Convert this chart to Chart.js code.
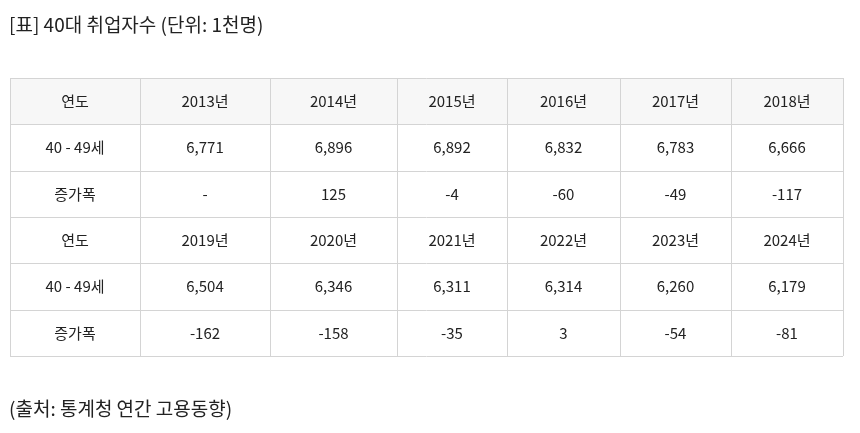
<!DOCTYPE html>
<html><head><meta charset="utf-8">
<script src="https://cdn.jsdelivr.net/npm/chart.js@4"></script>
<style>
html,body{margin:0;padding:0;background:#fff;width:860px;height:433px;overflow:hidden;font-family:"Noto Sans CJK KR",sans-serif;color:#222}
#t{position:absolute;left:9px;top:10px;font-size:19px}
#s{position:absolute;left:9px;top:394px;font-size:19px}
#w{position:absolute;left:0;top:0;width:860px;height:433px}
</style></head><body>
<div id="w"><canvas id="c"></canvas></div>
<div id="t">[표] 40대 취업자수 (단위: 1천명)</div>
<div id="s">(출처: 통계청 연간 고용동향)</div>
<script>
const years1 = ["2013년","2014년","2015년","2016년","2017년","2018년"];
const values1 = ["6,771","6,896","6,892","6,832","6,783","6,666"];
const diffs1 = ["-","125","-4","-60","-49","-117"];
const years2 = ["2019년","2020년","2021년","2022년","2023년","2024년"];
const values2 = ["6,504","6,346","6,311","6,314","6,260","6,179"];
const diffs2 = ["-162","-158","-35","3","-54","-81"];
const rowHeads = ["연도","40 - 49세","증가폭","연도","40 - 49세","증가폭"];
const colEdges = [0,130,260,387,497,610,721,833];

const rows = [years1, values1, diffs1, years2, values2, diffs2];
const tablePlugin = {
  id:'table',
  afterDraw(chart){
    const ctx = chart.ctx, x = chart.scales.x, y = chart.scales.y;
    const xp = v => x.getPixelForValue(v), yp = v => y.getPixelForValue(v);
    ctx.save();
    // header shading
    ctx.fillStyle = '#f7f7f7';
    ctx.fillRect(xp(0), yp(0), xp(833)-xp(0), yp(1)-yp(0));
    ctx.strokeStyle = '#d4d4d4'; ctx.lineWidth = 1;
    for (let r=0;r<=6;r++){ const py=Math.round(yp(r))+0.5; ctx.beginPath(); ctx.moveTo(xp(0),py); ctx.lineTo(xp(833),py); ctx.stroke(); }
    colEdges.forEach(e=>{ const px=Math.round(xp(e))+0.5; ctx.beginPath(); ctx.moveTo(px,yp(0)); ctx.lineTo(px,yp(6)); ctx.stroke(); });
    ctx.fillStyle = '#222'; ctx.font = '15px "Noto Sans CJK KR"'; ctx.textAlign='center'; ctx.textBaseline='middle';
    for (let r=0;r<6;r++){
      const cy = (yp(r)+yp(r+1))/2;
      ctx.fillText(rowHeads[r], (xp(colEdges[0])+xp(colEdges[1]))/2, cy);
      rows[r].forEach((t,i)=> ctx.fillText(t, (xp(colEdges[i+1])+xp(colEdges[i+2]))/2, cy));
    }
    ctx.restore();
  }
};
new Chart(document.getElementById('c'), {
  type:'scatter',
  data:{datasets:[{data:[]}]},
  options:{
    responsive:true, maintainAspectRatio:false, animation:false,
    layout:{padding:{left:10,right:17,top:78,bottom:77}},
    plugins:{legend:{display:false},tooltip:{enabled:false}},
    scales:{
      x:{type:'linear',min:0,max:833,display:false},
      y:{type:'linear',min:0,max:6,reverse:true,display:false}
    }
  },
  plugins:[tablePlugin]
});
</script></body></html>
